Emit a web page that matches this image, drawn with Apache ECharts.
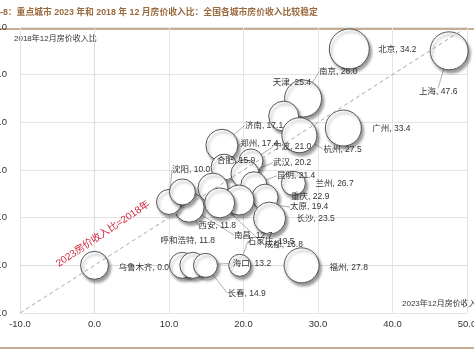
<!DOCTYPE html>
<html>
<head>
  <meta charset="UTF-8">
  <title>重点城市房价收入比</title>
</head>
<style type="text/css">
    html,body {padding: 0; margin: 0; background: #fff;}
    #chart {width: 474px; height: 353px;}
</style>
<body>
    <div id="chart"></div>
</body>
  <script src="https://cdn.jsdelivr.net/npm/echarts@6/dist/echarts.min.js"></script>
  <script type="text/javascript">

        // 城市
        var cities = ['北京','上海','南京','天津','济南','杭州','广州','宁波','郑州','合肥','武汉','昆明','兰州',
                      '重庆','太原','长沙','南昌','石家庄','成都','沈阳','西安','呼和浩特','乌鲁木齐','海口','长春','福州'];
        // 2023年12月房价收入比 (x)
        var ratio2023 = [34.2, 47.6, 28.0, 25.4, 17.1, 27.5, 33.4, 21.0, 17.4, 15.9, 20.2, 21.4, 26.7,
                         22.9, 19.4, 23.5, 12.7, 19.5, 16.8, 10.0, 11.8, 11.8, 0.0, 13.2, 14.9, 27.8];
        // 2018年12月房价收入比 (y)
        var ratio2018 = [45.4, 45.0, 35.0, 31.3, 25.2, 27.3, 28.8, 21.9, 20.6, 16.2, 19.2, 16.9, 17.2,
                         14.3, 13.7, 9.9, 12.2, 0.0, 13.1, 13.3, 15.4, 0.0, 0.0, 0.0, 0.0, 0.0];
        // 气泡大小
        var bubbleSize = [40, 38, 37, 30, 32, 35, 36, 24, 26, 30, 28, 26, 24,
                          26, 30, 32, 30, 22, 30, 25, 26, 26, 28, 26, 24, 35];
        var axisTicks = [-10, 0, 10, 20, 30, 40, 50];

        // 标签相对气泡中心的位置, 以及是否画引导线
        var labelShift = {
            '北京': [29, 1, 0], '上海': [-30, 41, 1], '南京': [16, -27, 1], '天津': [-11, -33, 1],
            '济南': [23, -20, 1], '杭州': [24, 14, 1], '广州': [29, 1, 0], '宁波': [22, -14, 1],
            '郑州': [16, -23, 1], '合肥': [4, -27, 0], '武汉': [28, -11, 1], '昆明': [23, -9, 1],
            '兰州': [22, 0, 0], '重庆': [26, -1, 0], '太原': [51, 7, 1], '长沙': [27, 1, 0],
            '南昌': [45, 28, 1], '石家庄': [8, -24, 1], '成都': [45, 42, 1], '沈阳': [3, -32, 1],
            '西安': [16, 34, 1], '呼和浩特': [-22, -25, 0], '乌鲁木齐': [24, 2, 0], '海口': [40, -2, 1],
            '长春': [22, 28, 1], '福州': [28, 2, 0]
        };

        var fontFam = "'Liberation Sans', 'Noto Sans CJK SC', sans-serif";

        var points = cities.map(function (name, i) {
            return {
                name: name,
                value: [ratio2023[i], ratio2018[i]],
                labelLine: {show: labelShift[name][2] == 1}
            };
        });

        var myChart = echarts.init(document.getElementById('chart'));
        var option = {
            animation: false,
            grid: {left: 20, right: 7, top: 27, bottom: 40, outerBoundsMode: 'none'},
            xAxis: {
                type: 'value', min: axisTicks[0], max: axisTicks[axisTicks.length - 1], interval: 10,
                axisLine: {show: true, lineStyle: {color: '#dcdcdc'}},
                axisTick: {show: false},
                splitLine: {lineStyle: {color: '#e4e4e4'}},
                axisLabel: {color: '#333', fontSize: 9.5, fontFamily: fontFam, margin: 7,
                    formatter: function (v) { return v.toFixed(1); }}
            },
            yAxis: {
                type: 'value', min: axisTicks[0], max: axisTicks[axisTicks.length - 1], interval: 10,
                axisLine: {show: true, lineStyle: {color: '#dcdcdc'}},
                axisTick: {show: false},
                splitLine: {lineStyle: {color: '#e4e4e4'}},
                axisLabel: {color: '#333', fontSize: 9.5, fontFamily: fontFam, margin: 13,
                    formatter: function (v) { return v.toFixed(1); }}
            },
            series: [
                {
                    type: 'scatter',
                    z: 2,
                    data: points,
                    symbolSize: function (val, params) { return bubbleSize[params.dataIndex]; },
                    itemStyle: {
                        color: '#fff', borderColor: '#555', borderWidth: 1, opacity: 1,
                        shadowColor: 'rgba(0,0,0,0.4)', shadowBlur: 3, shadowOffsetX: 2, shadowOffsetY: 3
                    },
                    label: {
                        show: true, position: 'right', color: '#333', fontSize: 8.5, fontFamily: fontFam,
                        formatter: function (p) { return p.name + ', ' + p.value[0].toFixed(1); }
                    },
                    labelLine: {show: true, lineStyle: {color: '#999', width: 0.8}},
                    labelLayout: function (params) {
                        var s = labelShift[cities[params.dataIndex]];
                        var cx = params.rect.x + params.rect.width / 2;
                        var cy = params.rect.y + params.rect.height / 2;
                        return {x: cx + s[0], y: cy + s[1], align: 'left', verticalAlign: 'middle'};
                    }
                },
                {
                    type: 'line',
                    z: 3,
                    silent: true,
                    symbol: 'none',
                    data: [[axisTicks[0], axisTicks[0]], [axisTicks[6], axisTicks[6]]],
                    lineStyle: {color: '#a8a8a8', width: 1, type: [4, 3]}
                }
            ],
            graphic: [
                {type: 'text', left: 0, top: 8, style: {
                    text: '-8：重点城市 2023 年和 2018 年 12 月房价收入比：全国各城市房价收入比较稳定',
                    fill: '#9a6a3f', fontSize: 8.8, fontWeight: 'bold', fontFamily: fontFam}},
                {type: 'line', shape: {x1: 0, y1: 29, x2: 474, y2: 29}, style: {stroke: '#b5916d', lineWidth: 1.5}},
                {type: 'line', shape: {x1: 0, y1: 348, x2: 474, y2: 348}, style: {stroke: '#b5916d', lineWidth: 1.5}},
                {type: 'text', x: 14, y: 39, style: {text: '2018年12月房价收入比', fill: '#333', fontSize: 8,
                    fontFamily: fontFam, verticalAlign: 'middle'}},
                {type: 'text', x: 402, y: 304, style: {text: '2023年12月房价收入比', fill: '#333', fontSize: 8,
                    fontFamily: fontFam, verticalAlign: 'middle'}},
                {type: 'text', x: 103, y: 234, rotation: 33.7 * Math.PI / 180, z: 10, style: {
                    text: '2023房价收入比=2018年', fill: '#d0243c', fontSize: 10, fontFamily: fontFam,
                    align: 'center', verticalAlign: 'middle'}}
            ]
        };
        myChart.setOption(option, true);

    </script>
</html>
